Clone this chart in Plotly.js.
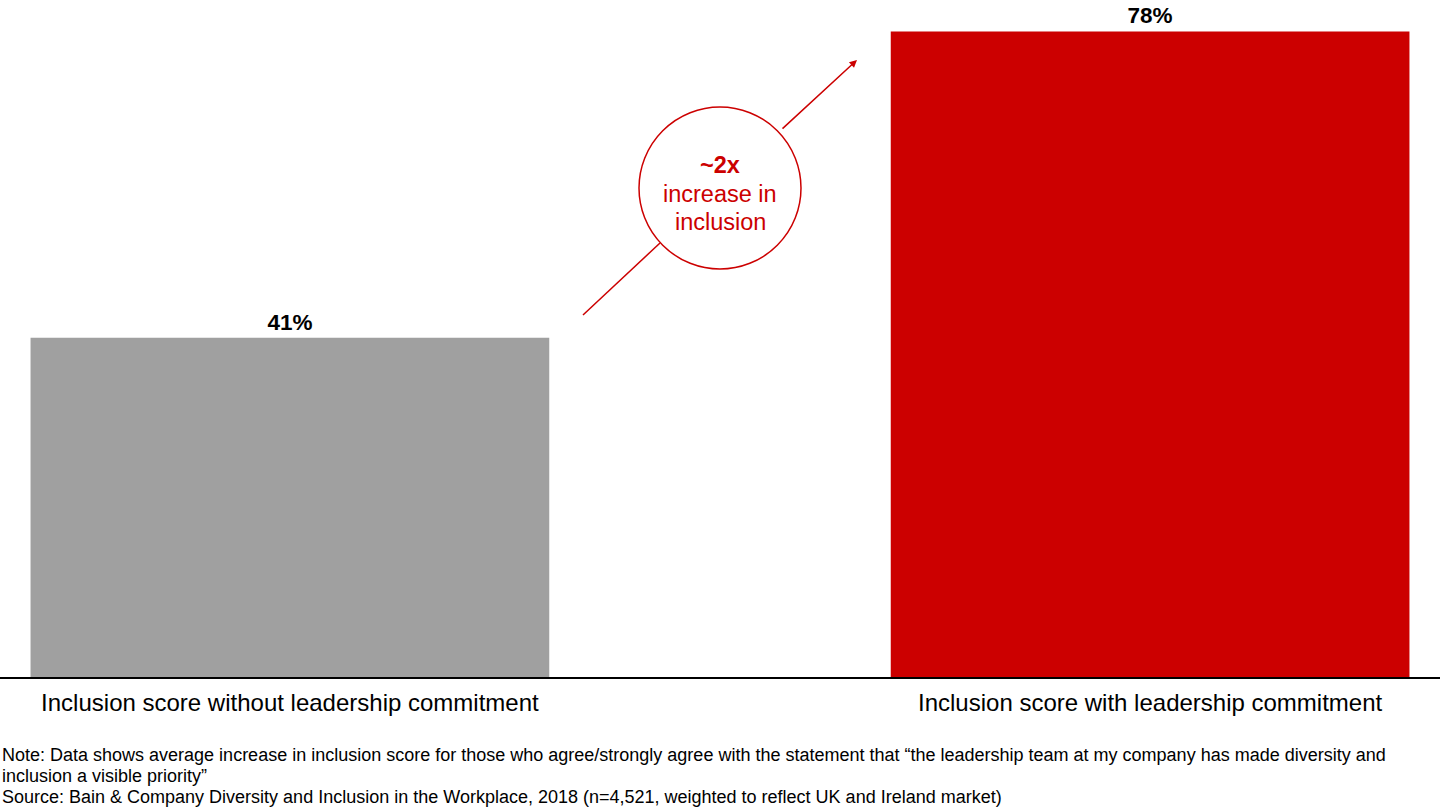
<!DOCTYPE html>
<html>
<head>
<meta charset="utf-8">
<script src="https://cdn.plot.ly/plotly-3.0.1.min.js"></script>
<style>
  html, body { margin: 0; padding: 0; background: #fff; }
  #chart { width: 1440px; height: 810px; }
</style>
</head>
<body>
<div id="chart"></div>
<script>
// data
var categories = ["Inclusion score without leadership commitment", "Inclusion score with leadership commitment"];
var scores = [41, 78];
var barColors = ["#a0a0a0", "#cc0000"];

var calloutLines = ["<b>~2x</b>", "increase in", "inclusion"];
var noteLines = [
  "Note: Data shows average increase in inclusion score for those who agree/strongly agree with the statement that \u201cthe leadership team at my company has made diversity and",
  "inclusion a visible priority\u201d",
  "Source: Bain &amp; Company Diversity and Inclusion in the Workplace, 2018 (n=4,521, weighted to reflect UK and Ireland market)"
];

var W = 1440, H = 810, plotH = 677;
function px(x) { return x / W; }
function py(y) { return (plotH - y) / plotH; }

var red = "#cc0000";

var trace = {
  x: categories,
  y: scores,
  type: 'bar',
  width: 0.603,
  marker: { color: barColors },
  text: scores.map(function(v) { return '<b>' + v + '%</b>'; }),
  textposition: 'outside',
  textfont: { family: 'Liberation Sans, Arial, sans-serif', size: 22.5, color: '#000' },
  cliponaxis: false,
  hoverinfo: 'skip'
};

var annotations = [
  // upper part of the arrow with head
  { xref: 'paper', yref: 'paper', x: px(857), y: py(60),
    axref: 'pixel', ayref: 'pixel', ax: -76, ay: 70,
    text: '', showarrow: true, arrowhead: 2, arrowsize: 1, arrowwidth: 1.5, arrowcolor: red }
];

calloutLines.forEach(function(t, i) {
  annotations.push({ xref: 'paper', yref: 'paper', x: 0.5, y: py(165 + i * 28.5), yanchor: 'middle',
    text: t, showarrow: false, font: { size: 23.5, color: red } });
});

noteLines.forEach(function(t, i) {
  annotations.push({ xref: 'paper', yref: 'paper', x: 0, y: py(755 + i * 21), xanchor: 'left', yanchor: 'middle',
    text: t, showarrow: false, align: 'left', font: { size: 18, color: '#000' } });
});

var layout = {
  width: W,
  height: H,
  margin: { l: 0, r: 0, t: 0, b: H - plotH },
  paper_bgcolor: '#fff',
  plot_bgcolor: '#fff',
  showlegend: false,
  font: { family: 'Liberation Sans, Arial, sans-serif', color: '#000' },
  xaxis: {
    range: [-0.337, 1.337],
    showline: true,
    linecolor: '#000',
    linewidth: 1.5,
    ticks: '',
    showgrid: false,
    zeroline: false,
    tickfont: { size: 24, color: '#000' },
    ticklabelstandoff: 4
  },
  yaxis: {
    range: [0, 81.8],
    visible: false,
    showgrid: false,
    zeroline: false
  },
  shapes: [
    // lower part of the arrow, up to the circle
    { type: 'line', xref: 'paper', yref: 'paper',
      x0: px(583), y0: py(315), x1: px(660), y1: py(243),
      line: { color: red, width: 1.5 } },
    { type: 'circle', xref: 'paper', yref: 'paper',
      x0: px(720 - 81), x1: px(720 + 81), y0: py(188 + 81), y1: py(188 - 81),
      fillcolor: '#fff', line: { color: red, width: 1.5 } }
  ],
  annotations: annotations
};

Plotly.newPlot('chart', [trace], layout, { displayModeBar: false, staticPlot: true });
</script>
</body>
</html>
